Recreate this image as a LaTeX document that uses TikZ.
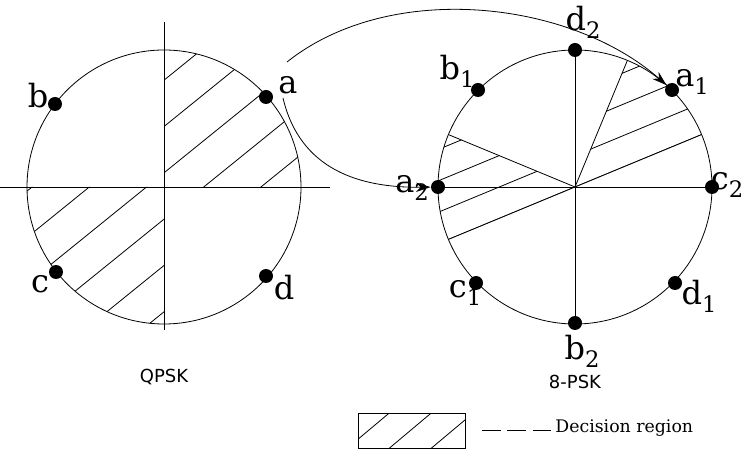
\documentclass[tikz,border=0pt]{standalone}
\usepackage{fontspec}
\setmainfont{DejaVu Serif}
\newfontfamily\qsans{DejaVu Sans}
\usetikzlibrary{arrows.meta}
\tikzset{
  dot/.style={circle,fill=black,inner sep=0pt,minimum size=10.5pt},
  lbl/.style={inner sep=0pt,font=\fontsize{24}{24}\selectfont},
  hatch/.style={line width=0.6pt},
  conn/.style={line width=0.6pt,-{Stealth[length=11pt,width=7pt]}}
}
\newcommand{\sub}[1]{\raisebox{-6pt}{\fontsize{17}{17}\selectfont #1}}
\begin{document}
\begin{tikzpicture}[x=0.75pt,y=-0.75pt,line width=0.6pt]
\useasboundingbox (0,0) rectangle (742,466);
% ---- QPSK ----
\begin{scope}
\clip (164,187) -- (301,187) arc[start angle=0,end angle=-90,radius=137] -- cycle
      (164,187) -- (27,187) arc[start angle=180,end angle=90,radius=137] -- cycle;
\foreach \k in {-6,...,6}
  \draw[hatch,shift={(164,187)},rotate=39] (-250,{-11+\k*36}) -- (250,{-11+\k*36});
\end{scope}
\draw (164,187) circle[radius=137];
\draw (164,22) -- (164,330);
\draw (0,187) -- (330,187);
\node[dot] (a) at (266,97) {};
\node[dot] (b) at (55,104) {};
\node[dot] (c) at (56,272) {};
\node[dot] (d) at (266,276) {};
\node[lbl] (la) at (288,85) {a};
\node[lbl] (lb) at (38,96) {b};
\node[lbl] (lc) at (40,284) {c};
\node[lbl] (ld) at (284,288) {d};
\node[font=\qsans\fontsize{13.5}{13.5}\selectfont] (q) at (164,377) {QPSK};
% ---- 8-PSK ----
\begin{scope}
\clip (575,187) -- (575+126.6,187-52.4) arc[start angle=-22.5,end angle=-67.5,radius=137] -- cycle
      (575,187) -- (575-126.6,187-52.4) arc[start angle=-157.5,end angle=-202.5,radius=137] -- cycle;
\foreach \k in {-6,...,6}
  \draw[hatch,shift={(575,187)},rotate=22.5] (-250,\k*29) -- (250,\k*29);
\end{scope}
\draw (575,187) -- (575-126.6,187-52.4);
\draw (575,187) -- (575+52.4,187-126.6);
\draw (575-126.6,187+52.4) -- (575+126.6,187-52.4);
\draw (575,187) circle[radius=137];
\draw (575,50) -- (575,324);
\draw (438,187) -- (712,187);
\node[dot] (d2) at (575,50) {};
\node[dot] (a1) at (672,90) {};
\node[dot] (c2) at (712,187) {};
\node[dot] (d1) at (675,283) {};
\node[dot] (b2) at (575,323) {};
\node[dot] (c1) at (476,283) {};
\node[dot] (a2) at (438,187) {};
\node[dot] (b1) at (478,90) {};
\node[lbl] (ld2) at (583,22) {d\sub{2}};
\node[lbl] (la1) at (692,82) {a\sub{1}};
\node[lbl] (lc2) at (727,185) {c\sub{2}};
\node[lbl] (ld1) at (699,296) {d\sub{1}};
\node[lbl] (lb2) at (582,351) {b\sub{2}};
\node[lbl] (lc1) at (465,293) {c\sub{1}};
\node[lbl] (la2) at (412,188) {a\sub{2}};
\node[lbl] (lb1) at (457,71) {b\sub{1}};
\node[font=\qsans\fontsize{13.5}{13.5}\selectfont] (p) at (575,382) {8-PSK};
% ---- connectors ----
\coordinate (s1) at (287,62);
\coordinate (s2) at (283,98);
\draw[conn] (s1) .. controls (390,-20) and (570,0) .. (a1);
\draw[conn] (s2) .. controls (300,170) and (360,188) .. (a2);
% ---- legend ----
\begin{scope}
\clip (358,413) rectangle (465,448);
\foreach \k in {-4,...,4}
  \draw[hatch,shift={(411,430)},rotate=40] (-150,\k*27) -- (150,\k*27);
\end{scope}
\draw (358,413) rectangle (465,448);
\coordinate (l1) at (482,430);
\coordinate (l2) at (553,430);
\draw[dash pattern=on 14pt off 5pt] (l1) -- (l2);
\node[anchor=west,inner sep=0pt,font=\fontsize{13}{13}\selectfont] (dr) at (555,428) {Decision region};
\end{tikzpicture}
\end{document}
